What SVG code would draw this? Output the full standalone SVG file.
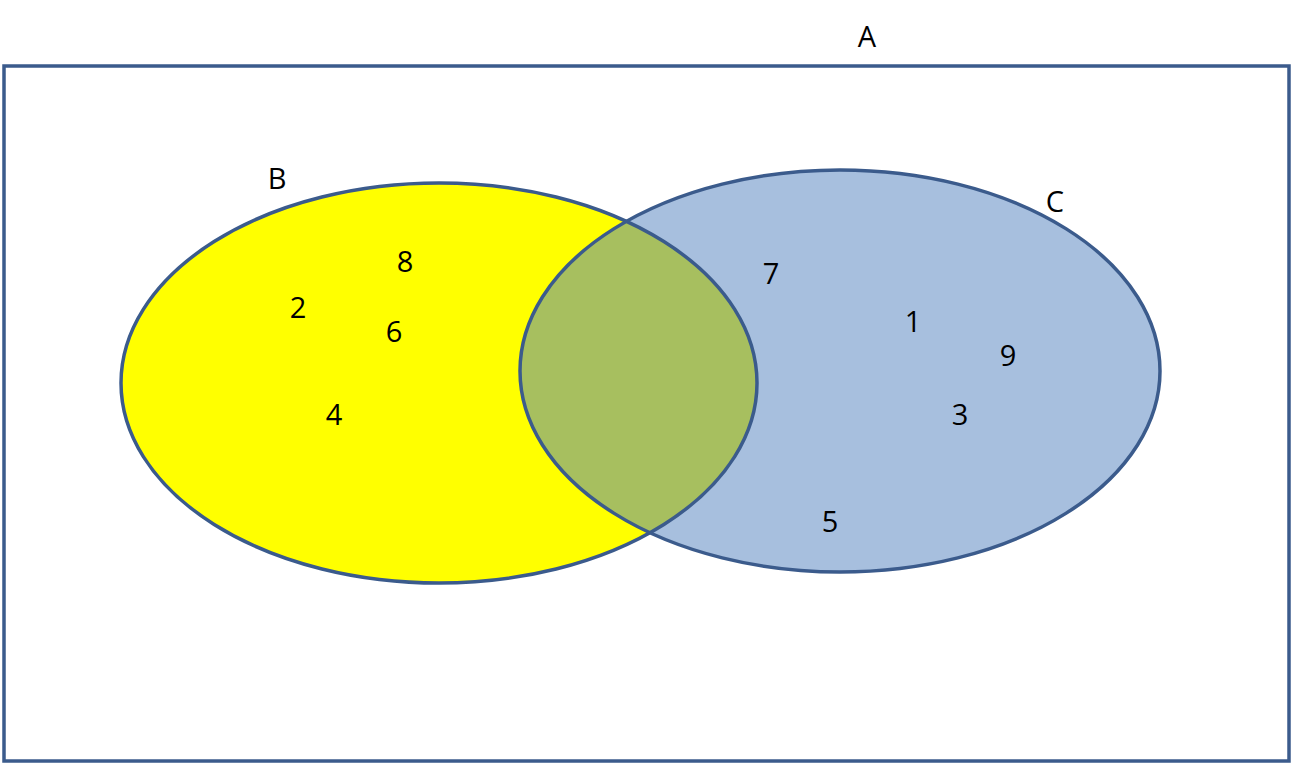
<svg xmlns="http://www.w3.org/2000/svg" width="1293" height="765" viewBox="0 0 1293 765">
<style>
.s{stroke:#3b5b8c;stroke-width:3.5}
text{font-family:"Open Sans","Liberation Sans",sans-serif;font-size:29px;fill:#000;text-anchor:middle}
</style>
<defs>
<clipPath id="cb"><ellipse cx="439" cy="383" rx="318" ry="200"/></clipPath>
</defs>
<rect width="1293" height="765" fill="#fff"/>
<g id="A"><rect x="4" y="66" width="1285" height="695" fill="none" class="s"/><text x="867" y="47">A</text></g>
<g id="B"><ellipse cx="439" cy="383" rx="318" ry="200" fill="#ffff00"/></g>
<g id="C"><ellipse cx="840" cy="371" rx="320" ry="201" fill="#a7bfde"/></g>
<g id="BC"><ellipse cx="840" cy="371" rx="320" ry="201" fill="#a7bf5f" clip-path="url(#cb)"/></g>
<g id="outlines" fill="none">
<ellipse cx="439" cy="383" rx="318" ry="200" class="s"/>
<ellipse cx="840" cy="371" rx="320" ry="201" class="s"/>
</g>
<g id="labels">
<text x="277" y="189">B</text><text x="1055" y="212">C</text>
<text x="405" y="272">8</text><text x="298" y="318">2</text><text x="394" y="342">6</text><text x="334" y="425">4</text>
<text x="771" y="284">7</text><text x="913" y="332">1</text><text x="1008" y="366">9</text><text x="960" y="425">3</text><text x="830" y="532">5</text>
</g>
</svg>
